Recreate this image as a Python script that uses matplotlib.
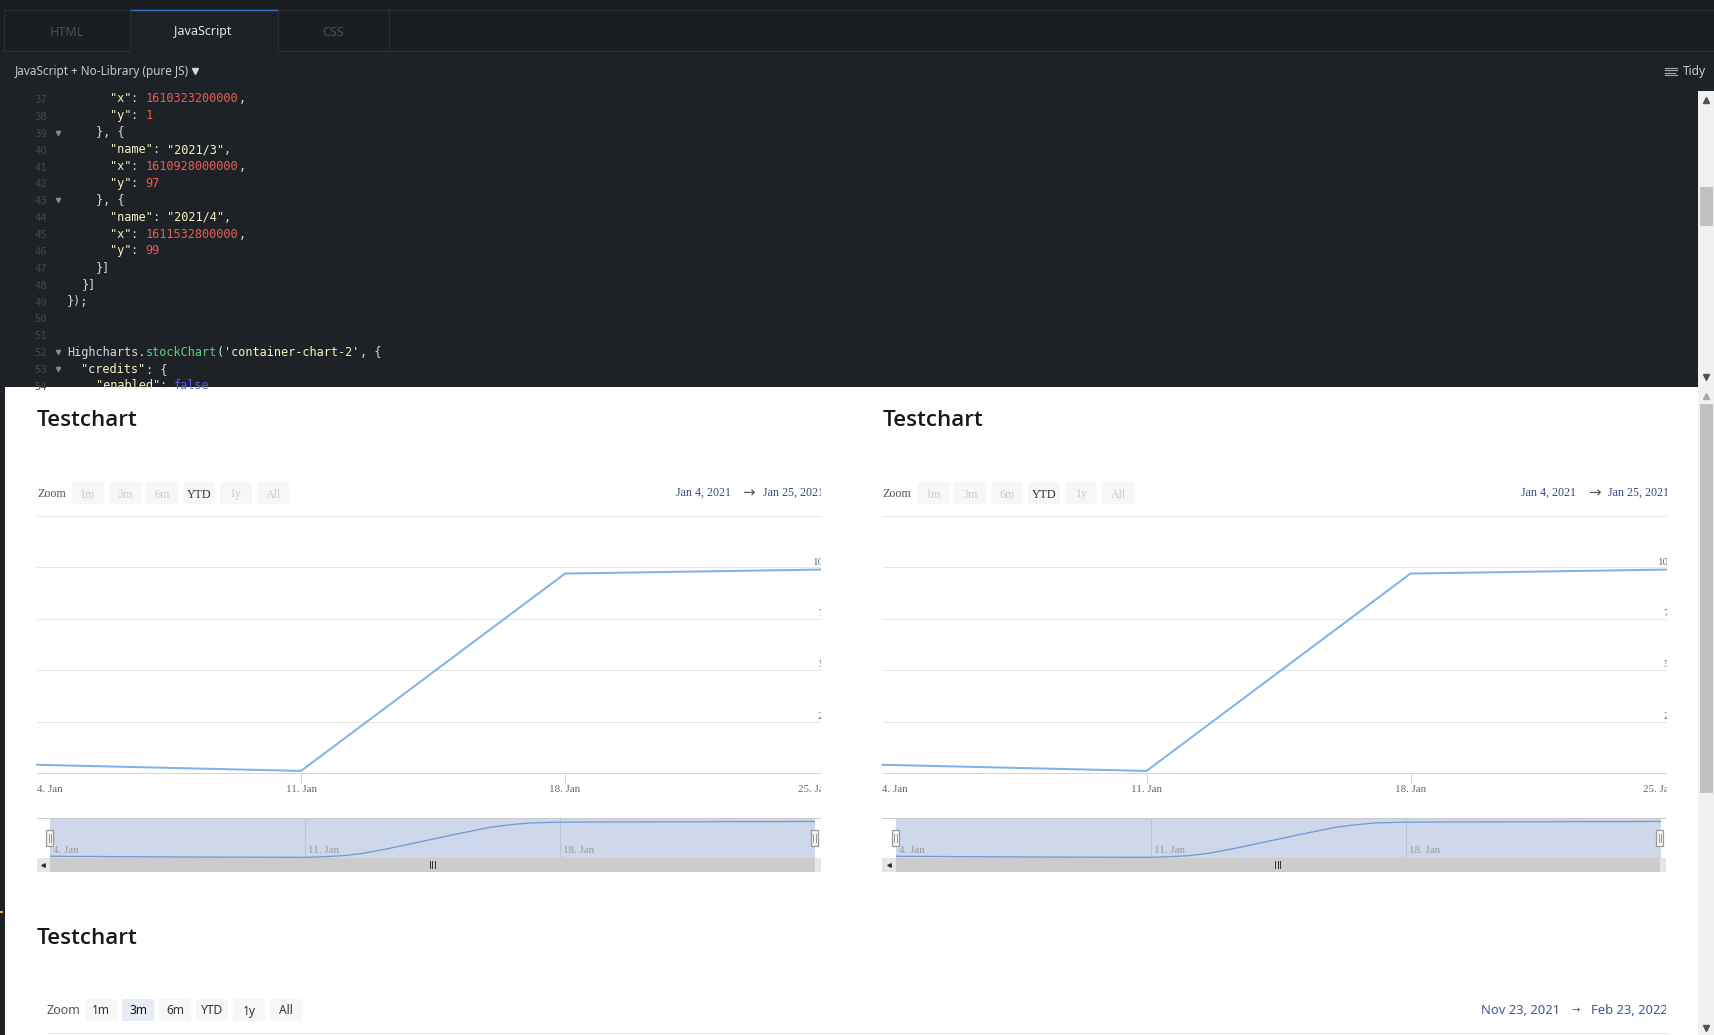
import matplotlib
matplotlib.use("Agg")
import matplotlib.pyplot as plt
from matplotlib.patches import Rectangle

W, H = 1715, 1035
DPI = 100

# dados dos graficos
days = [4, 11, 18, 25]
values = [4, 1, 97, 99]
day_labels = ["4. Jan", "11. Jan", "18. Jan", "25. Jan"]
y_ticks = [0, 25, 50, 75, 100, 125]
y_labels = ["25", "50", "75", "100"]

nav_days = [4, 7.5, 11, 11.49, 12.04, 12.59, 13.33, 14.23, 15.17, 16.07, 16.62, 17.17, 17.92, 18.83, 25]
nav_values = [4, 2, 1, 2.7, 5.5, 12, 26, 45, 65, 83, 90, 95, 97, 97.5, 99]

button_labels = ["1m", "3m", "6m", "YTD", "1y", "All"]

# codigo do editor: (numero, coluna inicial, lista de (texto, cor), dobra)
PUN = "#d8d8d8"
KEY = "#f8f4c0"
NUM = "#ee5c50"
GRN = "#5ccf80"
BLU = "#5b5bf0"
code_lines = [
    (37, 6, [('"x"', KEY), (": ", PUN), ("1610323200000", NUM), (",", PUN)], False),
    (38, 6, [('"y"', KEY), (": ", PUN), ("1", NUM)], False),
    (39, 4, [("}, {", PUN)], True),
    (40, 6, [('"name"', KEY), (": ", PUN), ('"2021/3"', KEY), (",", PUN)], False),
    (41, 6, [('"x"', KEY), (": ", PUN), ("1610928000000", NUM), (",", PUN)], False),
    (42, 6, [('"y"', KEY), (": ", PUN), ("97", NUM)], False),
    (43, 4, [("}, {", PUN)], True),
    (44, 6, [('"name"', KEY), (": ", PUN), ('"2021/4"', KEY), (",", PUN)], False),
    (45, 6, [('"x"', KEY), (": ", PUN), ("1611532800000", NUM), (",", PUN)], False),
    (46, 6, [('"y"', KEY), (": ", PUN), ("99", NUM)], False),
    (47, 4, [("}]", PUN)], False),
    (48, 2, [("}]", PUN)], False),
    (49, 0, [("});", PUN)], False),
    (50, 0, [], False),
    (51, 0, [], False),
    (52, 0, [("Highcharts.", PUN), ("stockChart", GRN), ("(", PUN), ("'container-chart-2'", KEY), (", {", PUN)], True),
    (53, 2, [('"credits"', KEY), (": {", PUN)], True),
    (54, 4, [('"enabled"', KEY), (": ", PUN), ("false", BLU)], False),
]

SERIF = "Liberation Serif"
SANS = "Noto Sans"
TITLE = "Open Sans"
MONO = "DejaVu Sans Mono"
LINE = "#7fb3e8"
GRID = "#e6e6e6"
AXIS = "#ccd6eb"


def px(size):
    return size * 72 / DPI


fig = plt.figure(figsize=(W / DPI, H / DPI), dpi=DPI)


def pixel_axes(zorder):
    a = fig.add_axes([0, 0, 1, 1], zorder=zorder)
    a.set_xlim(0, W)
    a.set_ylim(H, 0)
    a.axis("off")
    a.patch.set_alpha(0)
    return a


def rect(a, x0, y0, x1, y1, color, **kw):
    a.add_patch(Rectangle((x0, y0), x1 - x0, y1 - y0, facecolor=color, edgecolor=kw.pop("ec", "none"), linewidth=kw.pop("lw", 0), **kw))


def label(a, x, y, s, size, color, font=SANS, ha="left", va="center", **kw):
    a.text(x, y, s, fontsize=px(size), color=color, family=font, ha=ha, va=va, **kw)


def data_axes(x0, y0, x1, y1):
    return fig.add_axes([x0 / W, 1 - y1 / H, (x1 - x0) / W, (y1 - y0) / H], zorder=1)


bg = pixel_axes(0)
top = pixel_axes(2)

# --- editor escuro ---
rect(bg, 0, 0, W, H, "#1e2227")
rect(bg, 0, 0, W, 50, "#1a1d21")
rect(bg, 130, 9, 278, 51, "#1e2227")
bg.plot([4, W], [9.5, 9.5], color="#2c3036", lw=0.8)
bg.plot([4, 130], [50.5, 50.5], color="#2c3036", lw=0.8)
bg.plot([278, W], [50.5, 50.5], color="#2c3036", lw=0.8)
bg.plot([130, 278], [9.5, 9.5], color="#3f6fc4", lw=1)
for x in [4.5, 130, 278, 389]:
    bg.plot([x, x], [9, 50], color="#2c3036", lw=0.8)
label(bg, 67, 32, "HTML", 12.5, "#4b5056", ha="center")
label(bg, 203, 32, "JavaScript", 12.5, "#e4e4e4", ha="center")
label(bg, 333, 32, "CSS", 12.5, "#4b5056", ha="center")
label(bg, 15, 72, "JavaScript + No-Library (pure JS)", 11.7, "#c8c8c8")
bg.plot([195], [71], marker="v", color="#d8d8d8", ms=5)
label(bg, 1683, 72, "Tidy", 12, "#c8c8c8")
for yy, x1 in [(67.5, 1677), (70, 1677), (72.5, 1675), (75, 1677)]:
    bg.plot([1665, x1], [yy, yy], color="#a8a8a8", lw=0.8)

char_w = 7.14
code_y = 99
for i, (num, col, tokens, fold) in enumerate(code_lines):
    yy = code_y + i * 16.88
    label(bg, 47, yy + 1, str(num), 10.5, "#42474d", font=MONO, ha="right")
    if fold:
        bg.plot([58], [yy], marker="v", color="#8a8a8a", ms=3)
    c = col
    for txt, color in tokens:
        label(bg, 67 + c * char_w, yy, txt, 11.86, color, font=MONO)
        c += len(txt)

# barra de rolagem do editor
rect(bg, 1698, 91, W, 387, "#f1f1f1")
rect(bg, 1700, 187, 1713, 226, "#c1c1c1")
bg.plot([1706.5], [100], marker="^", color="#505050", ms=4.5)
bg.plot([1706.5], [377], marker="v", color="#505050", ms=4.5)

# --- painel branco ---
rect(bg, 5, 387, 1698, H, "white")
rect(bg, 1698, 387, W, H, "#f1f1f1")
rect(bg, 1700, 404, 1713, 793, "#c1c1c1")
bg.plot([1706.5], [396], marker="^", color="#a8a8a8", ms=4.5)
bg.plot([1706.5], [1028], marker="v", color="#505050", ms=4.5)
rect(bg, 0, 911, 3, 913, "#e8b93c")


def buttons(x_start, y0, font, selected, disabled):
    # botoes do seletor de periodo
    for i, b in enumerate(button_labels):
        x0 = x_start + i * 37
        active = b == selected and not disabled
        rect(bg, x0, y0, x0 + 32, y0 + 22, "#e6ebf5" if active else "#f7f7f7")
        if disabled:
            color = "#333333" if b == selected else "#cccccc"
        else:
            color = "#111111" if active else "#333333"
        label(bg, x0 + 16, y0 + 15.5, b, 12, color, font=font, ha="center", va="baseline", weight="bold" if active else "normal")


def stock_chart(dx):
    label(bg, 37 + dx, 421, "Testchart", 22.4, "#16181b", font=TITLE, weight="semibold")
    label(bg, 37 + dx, 494, "Zoom", 12, "#555555", font=SERIF)
    buttons(72 + dx, 482, SERIF, "YTD", True)
    label(bg, 676 + dx, 493, "Jan 4, 2021", 12, "#334d85", font=SERIF)
    label(bg, 748.5 + dx, 493, "\u2192", 15, "#555555", font="DejaVu Sans", ha="center")
    label(bg, 763 + dx, 493, "Jan 25, 2021", 12, "#334d85", font=SERIF)

    # grafico principal
    ax = data_axes(37 + dx, 516, 829 + dx, 773)
    ax.set_xlim(days[0], days[-1])
    ax.set_ylim(y_ticks[0], y_ticks[-1])
    ax.plot(days, values, color=LINE, lw=px(2), solid_joinstyle="round", clip_on=False)
    ax.set_yticks(y_ticks)
    ax.set_yticklabels([])
    ax.set_xticks(days)
    ax.set_xticklabels(day_labels, family=SERIF, fontsize=px(11), color="#666666")
    ax.tick_params(axis="y", length=0)
    ax.tick_params(axis="x", length=px(10), width=px(1), color=AXIS, pad=1.5)
    ax.grid(axis="y", color=GRID, lw=px(1))
    ax.set_axisbelow(True)
    for side in ["top", "left", "right"]:
        ax.spines[side].set_visible(False)
    ax.spines["bottom"].set_color(AXIS)
    ax.spines["bottom"].set_linewidth(px(1))
    ax.get_xticklabels()[0].set_ha("left")
    ax.get_xticklabels()[-1].set_ha("right")
    ax.xaxis.get_major_ticks()[0].tick1line.set_visible(False)
    for s, v in zip(y_labels, y_ticks[1:5]):
        ax.text(days[-1], v + 0.4, s, family=SERIF, fontsize=px(11), color="#666666", ha="right", va="bottom")

    # navegador
    rect(bg, 37 + dx, 818, 821 + dx, 819, "#cccccc")
    nav = data_axes(50.5 + dx, 818, 815 + dx, 858)
    nav.set_facecolor("#cfd8ea")
    nav.set_xlim(days[0], days[-1])
    nav.set_ylim(-0.8, 108.5)
    nav.plot(nav_days, nav_values, color="#6e9bd8", lw=px(1.3))
    nav.set_xticks(days[1:3])
    nav.set_yticks([])
    nav.set_xticklabels([])
    nav.tick_params(axis="x", length=0)
    nav.grid(axis="x", color="#bcc5d8", lw=px(1))
    nav.set_axisbelow(True)
    for s in nav.spines.values():
        s.set_visible(False)
    for d, s in zip(days[:3], day_labels[:3]):
        nav.text(d + 0.08, 20, s, family=SERIF, fontsize=px(11), color="#999999", ha="left", va="center")
    nav.spines["top"].set_visible(True)
    nav.spines["top"].set_color("#cccccc")

    # barra de rolagem do navegador
    rect(top, 37 + dx, 858, 50.5 + dx, 871.5, "#e6e6e6")
    rect(top, 50.5 + dx, 858, 815 + dx, 871.5, "#cccccc")
    rect(top, 815 + dx, 858, 821 + dx, 871.5, "#e6e6e6")
    top.plot([43.5 + dx], [865], marker="<", color="#333333", ms=2.5)
    for xg in [430, 432.5, 435]:
        top.plot([xg + dx, xg + dx], [861, 868], color="#333333", lw=0.7)
    # alcas
    for xh in [50 + dx, 814.5 + dx]:
        rect(top, xh - 3.5, 830, xh + 3.5, 846, "#f5f5f5", ec="#999999", lw=0.9, zorder=4)
        for off in [-1.2, 1.2]:
            top.plot([xh + off, xh + off], [834, 842], color="#888888", lw=0.6, zorder=5)

    # recorte do container (overflow hidden)
    rect(top, 821.5 + dx, 480, 838 + dx, 880, "white", zorder=3)


stock_chart(0)
stock_chart(845.5)

# terceiro grafico, so o comeco aparece
label(bg, 37, 938.5, "Testchart", 22.4, "#16181b", font=TITLE, weight="semibold")
label(bg, 47, 1011, "Zoom", 12.5, "#555555")
buttons(85, 999, SANS, "3m", False)
label(bg, 1481.5, 1010, "Nov 23, 2021", 13, "#3b5a8f")
label(bg, 1576, 1010, "\u2192", 10, "#555555", font="DejaVu Sans", ha="center")
label(bg, 1591, 1010, "Feb 23, 2022", 13, "#3b5a8f")
bg.plot([47, 1667], [1033, 1033], color=GRID, lw=px(1))
rect(top, 1666.5, 990, 1698, 1030, "white")

fig.savefig("out.png", dpi=DPI)
